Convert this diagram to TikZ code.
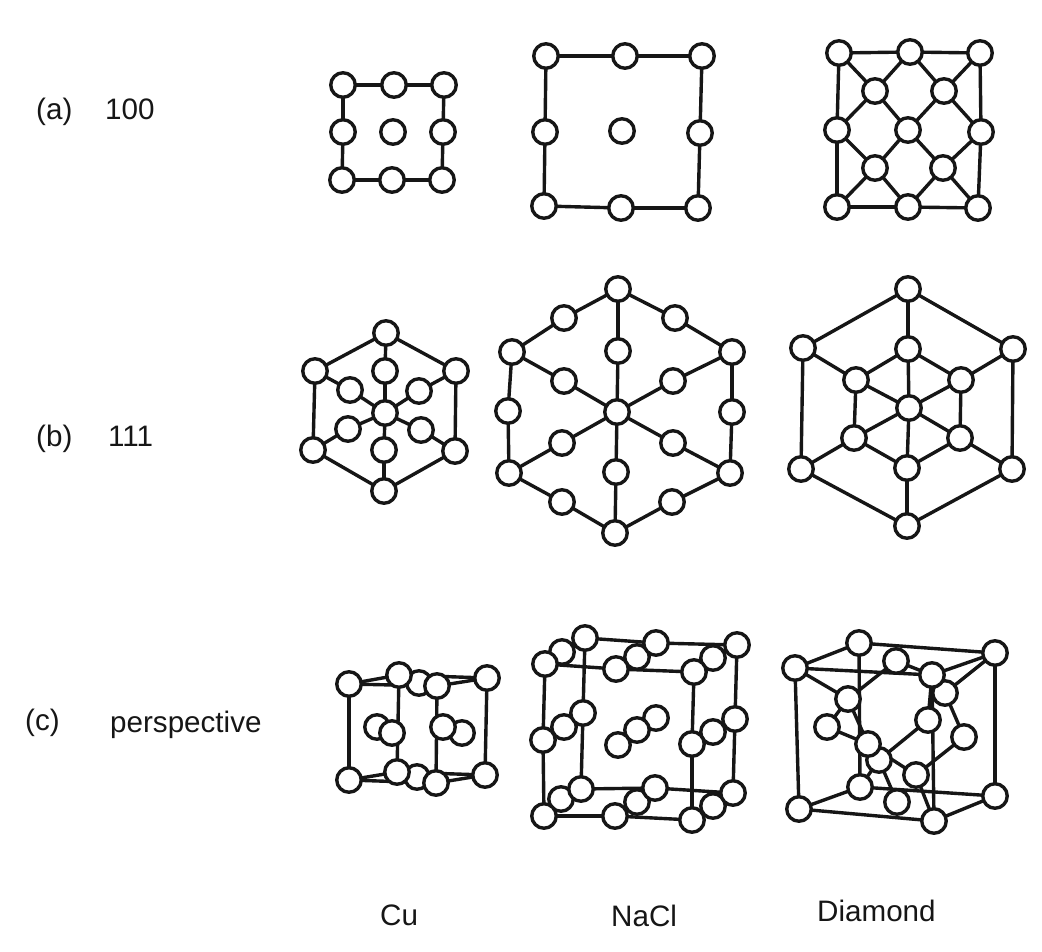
\documentclass[tikz,border=0pt]{standalone}
\usepackage{fontspec}
\setmainfont{Liberation Sans}
\usetikzlibrary{backgrounds}
\definecolor{ink}{HTML}{161616}
\tikzset{
  atom/.style={circle,draw=ink,fill=white,line width=3.4pt,minimum size=24.5pt,inner sep=0pt,outer sep=0pt},
  bond/.style={draw=ink,line width=3.4pt},
  lbl/.style={anchor=base west,inner sep=0pt,text=ink,font=\fontsize{29.6}{30}\selectfont}
}
\newcommand{\atoms}[1]{\foreach \n/\x/\y in {#1} {\node[atom] (\n) at (\x,\y) {};}}
\newcommand{\bonds}[1]{\begin{scope}[on background layer]\foreach \p/\q in {#1} {\draw[bond] (\p) -- (\q);}\end{scope}}
\begin{document}
\begin{tikzpicture}[x=1pt,y=-1pt]
\useasboundingbox (0,0) rectangle (1042,952);
% labels
\node[lbl] (la) at (36,120) {(a)};
\node[lbl] (ta) at (105,120) {100};
\node[lbl] (lb) at (36,446) {(b)};
\node[lbl] (tb) at (108,446) {111};
\node[lbl] (lc) at (25,730) {(c)};
\node[lbl] (tc) at (110,732) {perspective};
\node[lbl] (cu) at (380,925) {Cu};
\node[lbl] (nacl) at (611,926) {NaCl};
\node[lbl] (dia) at (817,921) {Diamond};
% (a) Cu
\atoms{aa1/343/85,aa2/394/85,aa3/444/85,aa4/343/132,aa5/393/132,aa6/443/132,aa7/342/180,aa8/392/180,aa9/442/180}
\bonds{aa1/aa2,aa2/aa3,aa3/aa6,aa6/aa9,aa9/aa8,aa8/aa7,aa7/aa4,aa4/aa1}
% (a) NaCl
\atoms{ab1/546/56,ab2/625/56,ab3/702/56,ab4/545/132,ab5/622/131,ab6/700/133,ab7/544/206,ab8/621/208,ab9/698/208}
\bonds{ab1/ab2,ab2/ab3,ab3/ab6,ab6/ab9,ab9/ab8,ab8/ab7,ab7/ab4,ab4/ab1}
% (a) Diamond
\atoms{ac1/839/53,ac2/910/52,ac3/980/53,ac4/875/91,ac5/944/91,ac6/837/130,ac7/908/130,ac8/981/132,ac9/875/168,ac10/943/168,ac11/837/207,ac12/908/207,ac13/978/208}
\bonds{ac1/ac2,ac2/ac3,ac3/ac8,ac8/ac13,ac13/ac12,ac12/ac11,ac11/ac6,ac6/ac1,
ac1/ac4,ac2/ac4,ac2/ac5,ac3/ac5,ac4/ac6,ac4/ac7,ac5/ac7,ac5/ac8,
ac6/ac9,ac7/ac9,ac7/ac10,ac8/ac10,ac9/ac11,ac9/ac12,ac10/ac12,ac10/ac13}
% (b) Cu
\atoms{ba1/386/333,ba2/315/371,ba3/456/371,ba4/313/450,ba5/455/451,ba6/384/491,ba7/385/371,ba8/350/390,ba9/419/391,ba10/348/429,ba11/421/430,ba12/384/450,ba13/385/413}
\bonds{ba1/ba2,ba1/ba3,ba2/ba4,ba3/ba5,ba4/ba6,ba5/ba6,ba1/ba7,ba7/ba13,ba2/ba8,ba8/ba13,ba3/ba9,ba9/ba13,ba4/ba10,ba10/ba13,ba5/ba11,ba11/ba13,ba6/ba12,ba12/ba13}
% (b) NaCl
\atoms{bb1/618/289,bb2/564/318,bb3/675/318,bb4/512/352,bb5/732/352,bb6/618/351,bb7/564/381,bb8/673/381,bb9/617/412,bb10/508/411,bb11/732/412,bb12/509/473,bb13/730/473,bb14/562/443,bb15/673/443,bb16/616/472,bb17/562/502,bb18/672/502,bb19/615/533}
\bonds{bb1/bb2,bb2/bb4,bb1/bb3,bb3/bb5,bb4/bb10,bb10/bb12,bb5/bb11,bb11/bb13,bb12/bb17,bb17/bb19,bb13/bb18,bb18/bb19,bb1/bb6,bb6/bb9,bb4/bb7,bb7/bb9,bb5/bb8,bb8/bb9,bb12/bb14,bb14/bb9,bb13/bb15,bb15/bb9,bb19/bb16,bb16/bb9}
% (b) Diamond
\atoms{bc1/908/289,bc2/803/348,bc3/1013/349,bc4/801/469,bc5/1012/469,bc6/907/526,bc7/908/349,bc8/856/380,bc9/961/380,bc10/909/408,bc11/854/438,bc12/960/438,bc13/907/468}
\bonds{bc1/bc2,bc1/bc3,bc1/bc7,bc2/bc8,bc3/bc9,bc2/bc4,bc3/bc5,bc4/bc11,bc5/bc12,bc4/bc6,bc5/bc6,bc6/bc13,bc7/bc8,bc7/bc9,bc7/bc10,bc8/bc11,bc9/bc12,bc8/bc10,bc9/bc10,bc11/bc10,bc12/bc10,bc11/bc13,bc12/bc13,bc10/bc13}
% (c) Cu
\atoms{ca9/377/727,ca10/392/733,ca12/462/733,ca11/443/727,ca3/419/683,ca1/349/684,ca2/399/675,ca4/437/686,ca5/487/678,ca8/417/777,ca6/349/780,ca7/397/772,ca13/436/783,ca14/485/775}
\bonds{ca1/ca2,ca1/ca4,ca2/ca5,ca4/ca5,ca1/ca6,ca2/ca7,ca4/ca13,ca5/ca14,ca6/ca7,ca6/ca13,ca7/ca14,ca13/ca14}
% (c) NaCl
\atoms{cb2/562/652,cb3/585/638,cb1/545/664,cb5/637/657,cb6/656/643,cb4/616/669,cb8/713/658,cb7/694/672,cb9/737/645,
cb11/564/727,cb12/583/713,cb10/543/740,cb15/656/718,cb14/637/730,cb13/618/745,cb18/735/719,cb17/713/732,cb16/692/744,
cb20/561/799,cb21/581/789,cb19/544/816,cb23/637/802,cb24/655/788,cb22/615/816,cb26/713/806,cb27/733/793,cb25/692/820}
\bonds{cb1/cb4,cb4/cb7,cb3/cb6,cb6/cb9,cb1/cb2,cb2/cb3,cb4/cb5,cb5/cb6,cb7/cb8,cb8/cb9,
cb1/cb10,cb10/cb19,cb3/cb12,cb12/cb21,cb7/cb16,cb16/cb25,cb9/cb18,cb18/cb27,cb10/cb11,cb11/cb12,cb16/cb17,cb17/cb18,
cb19/cb22,cb22/cb25,cb21/cb24,cb24/cb27,cb19/cb20,cb20/cb21,cb22/cb23,cb23/cb24,cb25/cb26,cb26/cb27}
% (c) Diamond
\atoms{cc1/795/668,cc2/859/643,cc3/995/653,cc5/945/693,cc4/932/675,cc6/896/661,cc7/848/699,cc8/827/727,cc9/928/720,cc10/964/737,cc12/879/760,cc11/868/744,cc13/916/775,cc14/860/787,cc15/897/802,cc16/799/809,cc17/995/796,cc18/934/821}
\bonds{cc1/cc2,cc2/cc3,cc1/cc4,cc3/cc4,cc1/cc16,cc2/cc14,cc3/cc17,cc4/cc18,cc16/cc18,cc16/cc14,cc14/cc17,cc17/cc18,
cc1/cc7,cc7/cc8,cc7/cc11,cc8/cc11,cc6/cc7,cc6/cc4,cc4/cc5,cc3/cc5,cc5/cc10,cc10/cc13,cc4/cc9,cc9/cc12,cc11/cc13,cc12/cc14,cc12/cc15,cc13/cc18}
\end{tikzpicture}
\end{document}
